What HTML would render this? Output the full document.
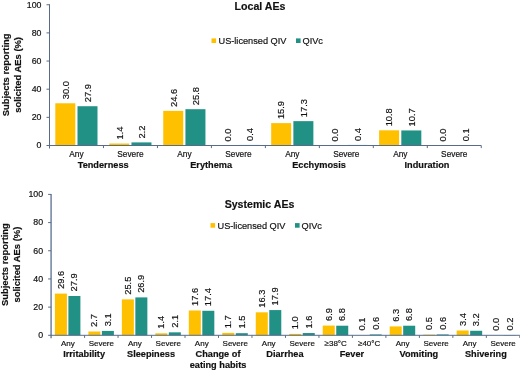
<!DOCTYPE html>
<html><head><meta charset="utf-8"><title>AEs</title>
<style>
html,body{margin:0;padding:0;background:#fff;}
svg{display:block;font-family:"Liberation Sans",Arial,sans-serif;fill:#111}
svg text{stroke:#111;stroke-width:0.18px}
.t{font-size:8.8px}
.c{font-size:8.3px}
.v{font-size:9.3px}
.l{font-size:9.2px}
.g{font-size:9.2px;font-weight:bold}
.ti{font-size:10.6px;font-weight:bold}
.yl{font-size:9.4px;font-weight:bold}
</style></head><body>
<svg width="520" height="372" viewBox="0 0 520 372">
<rect width="520" height="372" fill="#fff"/>
<rect x="55.30" y="103.28" width="20" height="42.23" fill="#ffc000"/>
<text class="v" transform="translate(68.60,99.28) rotate(-90)">30.0</text>
<rect x="77.50" y="106.23" width="20" height="39.27" fill="#219085"/>
<text class="v" transform="translate(90.80,102.23) rotate(-90)">27.9</text>
<text class="c" style="font-size:8.3px" x="76.48" y="157.0" text-anchor="middle">Any</text>
<rect x="109.27" y="143.53" width="20" height="1.97" fill="#ffc000"/>
<text class="v" transform="translate(122.57,139.53) rotate(-90)">1.4</text>
<rect x="131.47" y="142.40" width="20" height="3.10" fill="#219085"/>
<text class="v" transform="translate(144.77,138.40) rotate(-90)">2.2</text>
<text class="c" style="font-size:8.3px" x="130.45" y="157.0" text-anchor="middle">Severe</text>
<text class="g" x="103.17" y="168.00" text-anchor="middle">Tenderness</text>
<rect x="163.24" y="110.88" width="20" height="34.62" fill="#ffc000"/>
<text class="v" transform="translate(176.54,106.88) rotate(-90)">24.6</text>
<rect x="185.44" y="109.19" width="20" height="36.31" fill="#219085"/>
<text class="v" transform="translate(198.74,105.19) rotate(-90)">25.8</text>
<text class="c" style="font-size:8.3px" x="184.43" y="157.0" text-anchor="middle">Any</text>
<text class="v" transform="translate(230.51,141.50) rotate(-90)">0.0</text>
<rect x="239.41" y="144.94" width="20" height="0.56" fill="#219085"/>
<text class="v" transform="translate(252.71,140.94) rotate(-90)">0.4</text>
<text class="c" style="font-size:8.3px" x="238.39" y="157.0" text-anchor="middle">Severe</text>
<text class="g" x="211.11" y="168.00" text-anchor="middle">Erythema</text>
<rect x="271.18" y="123.12" width="20" height="22.38" fill="#ffc000"/>
<text class="v" transform="translate(284.48,119.12) rotate(-90)">15.9</text>
<rect x="293.38" y="121.15" width="20" height="24.35" fill="#219085"/>
<text class="v" transform="translate(306.68,117.15) rotate(-90)">17.3</text>
<text class="c" style="font-size:8.3px" x="292.37" y="157.0" text-anchor="middle">Any</text>
<text class="v" transform="translate(338.45,141.50) rotate(-90)">0.0</text>
<rect x="347.35" y="144.94" width="20" height="0.56" fill="#219085"/>
<text class="v" transform="translate(360.65,140.94) rotate(-90)">0.4</text>
<text class="c" style="font-size:8.3px" x="346.34" y="157.0" text-anchor="middle">Severe</text>
<text class="g" x="319.05" y="168.00" text-anchor="middle">Ecchymosis</text>
<rect x="379.12" y="130.30" width="20" height="15.20" fill="#ffc000"/>
<text class="v" transform="translate(392.42,126.30) rotate(-90)">10.8</text>
<rect x="401.32" y="130.44" width="20" height="15.06" fill="#219085"/>
<text class="v" transform="translate(414.62,126.44) rotate(-90)">10.7</text>
<text class="c" style="font-size:8.3px" x="400.31" y="157.0" text-anchor="middle">Any</text>
<text class="v" transform="translate(446.39,141.50) rotate(-90)">0.0</text>
<rect x="455.29" y="145.36" width="20" height="0.14" fill="#219085"/>
<text class="v" transform="translate(468.59,141.36) rotate(-90)">0.1</text>
<text class="c" style="font-size:8.3px" x="454.27" y="157.0" text-anchor="middle">Severe</text>
<text class="g" x="426.99" y="168.00" text-anchor="middle">Induration</text>
<path d="M49.5 4.25V148.5" stroke="#586c8a" stroke-width="1" fill="none"/>
<path d="M49.0 145.5H481.26" stroke="#586c8a" stroke-width="1" fill="none"/>
<path d="M46.5 145.50H49.5" stroke="#586c8a" stroke-width="1"/>
<text class="t" x="41.5" y="148.40" text-anchor="end">0</text>
<path d="M46.5 117.35H49.5" stroke="#586c8a" stroke-width="1"/>
<text class="t" x="41.5" y="120.25" text-anchor="end">20</text>
<path d="M46.5 89.20H49.5" stroke="#586c8a" stroke-width="1"/>
<text class="t" x="41.5" y="92.10" text-anchor="end">40</text>
<path d="M46.5 61.05H49.5" stroke="#586c8a" stroke-width="1"/>
<text class="t" x="41.5" y="63.95" text-anchor="end">60</text>
<path d="M46.5 32.90H49.5" stroke="#586c8a" stroke-width="1"/>
<text class="t" x="41.5" y="35.80" text-anchor="end">80</text>
<path d="M46.5 4.75H49.5" stroke="#586c8a" stroke-width="1"/>
<text class="t" x="41.5" y="7.65" text-anchor="end">100</text>
<path d="M103.47 145.5V148.1" stroke="#586c8a" stroke-width="1"/>
<path d="M157.44 145.5V148.1" stroke="#586c8a" stroke-width="1"/>
<path d="M211.41 145.5V148.1" stroke="#586c8a" stroke-width="1"/>
<path d="M265.38 145.5V148.1" stroke="#586c8a" stroke-width="1"/>
<path d="M319.35 145.5V148.1" stroke="#586c8a" stroke-width="1"/>
<path d="M373.32 145.5V148.1" stroke="#586c8a" stroke-width="1"/>
<path d="M427.29 145.5V148.1" stroke="#586c8a" stroke-width="1"/>
<path d="M481.26 145.5V148.1" stroke="#586c8a" stroke-width="1"/>
<text class="ti" x="260" y="10" text-anchor="middle">Local AEs</text>
<rect x="211.5" y="38.4" width="4.6" height="4.6" fill="#ffc000"/>
<text class="l" x="218.5" y="44">US-licensed QIV</text>
<rect x="296.0" y="38.4" width="4.6" height="4.6" fill="#219085"/>
<text class="l" x="302.5" y="44">QIVc</text>
<text class="yl" text-anchor="middle" transform="translate(9,74.88) rotate(-90)"><tspan x="0" y="0">Subjects reporting</tspan><tspan x="0" y="11.5">solicited AEs (%)</tspan></text>
<rect x="54.90" y="293.59" width="12" height="41.71" fill="#ffc000"/>
<text class="v" transform="translate(63.90,288.99) rotate(-90)">29.6</text>
<rect x="68.40" y="295.99" width="12" height="39.31" fill="#219085"/>
<text class="v" transform="translate(77.40,291.39) rotate(-90)">27.9</text>
<text class="c" style="font-size:8.0px" x="67.84" y="346.0" text-anchor="middle">Any</text>
<rect x="88.38" y="331.50" width="12" height="3.80" fill="#ffc000"/>
<text class="v" transform="translate(97.38,326.90) rotate(-90)">2.7</text>
<rect x="101.88" y="330.93" width="12" height="4.37" fill="#219085"/>
<text class="v" transform="translate(110.88,326.33) rotate(-90)">3.1</text>
<text class="c" style="font-size:8.0px" x="101.32" y="346.0" text-anchor="middle">Severe</text>
<text class="g" x="84.08" y="357.40" text-anchor="middle">Irritability</text>
<rect x="121.86" y="299.37" width="12" height="35.93" fill="#ffc000"/>
<text class="v" transform="translate(130.86,294.77) rotate(-90)">25.5</text>
<rect x="135.36" y="297.40" width="12" height="37.90" fill="#219085"/>
<text class="v" transform="translate(144.36,292.80) rotate(-90)">26.9</text>
<text class="c" style="font-size:8.0px" x="134.80" y="346.0" text-anchor="middle">Any</text>
<rect x="155.34" y="333.33" width="12" height="1.97" fill="#ffc000"/>
<text class="v" transform="translate(164.34,328.73) rotate(-90)">1.4</text>
<rect x="168.84" y="332.34" width="12" height="2.96" fill="#219085"/>
<text class="v" transform="translate(177.84,327.74) rotate(-90)">2.1</text>
<text class="c" style="font-size:8.0px" x="168.28" y="346.0" text-anchor="middle">Severe</text>
<text class="g" x="151.04" y="357.40" text-anchor="middle">Sleepiness</text>
<rect x="188.82" y="310.50" width="12" height="24.80" fill="#ffc000"/>
<text class="v" transform="translate(197.82,305.90) rotate(-90)">17.6</text>
<rect x="202.32" y="310.78" width="12" height="24.52" fill="#219085"/>
<text class="v" transform="translate(211.32,306.18) rotate(-90)">17.4</text>
<text class="c" style="font-size:8.0px" x="201.76" y="346.0" text-anchor="middle">Any</text>
<rect x="222.30" y="332.90" width="12" height="2.40" fill="#ffc000"/>
<text class="v" transform="translate(231.30,328.30) rotate(-90)">1.7</text>
<rect x="235.80" y="333.19" width="12" height="2.11" fill="#219085"/>
<text class="v" transform="translate(244.80,328.59) rotate(-90)">1.5</text>
<text class="c" style="font-size:8.0px" x="235.24" y="346.0" text-anchor="middle">Severe</text>
<text class="g" x="218.00" y="357.40" text-anchor="middle">Change of</text>
<text class="g" x="218.00" y="368.20" text-anchor="middle">eating habits</text>
<rect x="255.78" y="312.33" width="12" height="22.97" fill="#ffc000"/>
<text class="v" transform="translate(264.78,307.73) rotate(-90)">16.3</text>
<rect x="269.28" y="310.08" width="12" height="25.22" fill="#219085"/>
<text class="v" transform="translate(278.28,305.48) rotate(-90)">17.9</text>
<text class="c" style="font-size:8.0px" x="268.72" y="346.0" text-anchor="middle">Any</text>
<rect x="289.26" y="333.89" width="12" height="1.41" fill="#ffc000"/>
<text class="v" transform="translate(298.26,329.29) rotate(-90)">1.0</text>
<rect x="302.76" y="333.05" width="12" height="2.25" fill="#219085"/>
<text class="v" transform="translate(311.76,328.45) rotate(-90)">1.6</text>
<text class="c" style="font-size:8.0px" x="302.20" y="346.0" text-anchor="middle">Severe</text>
<text class="g" x="284.96" y="357.40" text-anchor="middle">Diarrhea</text>
<rect x="322.74" y="325.58" width="12" height="9.72" fill="#ffc000"/>
<text class="v" transform="translate(331.74,320.98) rotate(-90)">6.9</text>
<rect x="336.24" y="325.72" width="12" height="9.58" fill="#219085"/>
<text class="v" transform="translate(345.24,321.12) rotate(-90)">6.8</text>
<text class="c" style="font-size:8.0px" x="335.68" y="346.0" text-anchor="middle">≥38°C</text>
<rect x="356.22" y="335.16" width="12" height="0.14" fill="#ffc000"/>
<text class="v" transform="translate(365.22,330.56) rotate(-90)">0.1</text>
<rect x="369.72" y="334.45" width="12" height="0.85" fill="#219085"/>
<text class="v" transform="translate(378.72,329.85) rotate(-90)">0.6</text>
<text class="c" style="font-size:8.0px" x="369.16" y="346.0" text-anchor="middle">≥40°C</text>
<text class="g" x="351.92" y="357.40" text-anchor="middle">Fever</text>
<rect x="389.70" y="326.42" width="12" height="8.88" fill="#ffc000"/>
<text class="v" transform="translate(398.70,321.82) rotate(-90)">6.3</text>
<rect x="403.20" y="325.72" width="12" height="9.58" fill="#219085"/>
<text class="v" transform="translate(412.20,321.12) rotate(-90)">6.8</text>
<text class="c" style="font-size:8.0px" x="402.64" y="346.0" text-anchor="middle">Any</text>
<rect x="423.18" y="334.60" width="12" height="0.70" fill="#ffc000"/>
<text class="v" transform="translate(432.18,330.00) rotate(-90)">0.5</text>
<rect x="436.68" y="334.45" width="12" height="0.85" fill="#219085"/>
<text class="v" transform="translate(445.68,329.85) rotate(-90)">0.6</text>
<text class="c" style="font-size:8.0px" x="436.12" y="346.0" text-anchor="middle">Severe</text>
<text class="g" x="418.88" y="357.40" text-anchor="middle">Vomiting</text>
<rect x="456.66" y="330.51" width="12" height="4.79" fill="#ffc000"/>
<text class="v" transform="translate(465.66,325.91) rotate(-90)">3.4</text>
<rect x="470.16" y="330.79" width="12" height="4.51" fill="#219085"/>
<text class="v" transform="translate(479.16,326.19) rotate(-90)">3.2</text>
<text class="c" style="font-size:8.0px" x="469.60" y="346.0" text-anchor="middle">Any</text>
<text class="v" transform="translate(499.14,330.70) rotate(-90)">0.0</text>
<rect x="503.64" y="335.02" width="12" height="0.28" fill="#219085"/>
<text class="v" transform="translate(512.64,330.42) rotate(-90)">0.2</text>
<text class="c" style="font-size:8.0px" x="503.08" y="346.0" text-anchor="middle">Severe</text>
<text class="g" x="485.84" y="357.40" text-anchor="middle">Shivering</text>
<path d="M51.1 193.9V338.3" stroke="#8090aa" stroke-width="1.7" fill="none"/>
<path d="M50.6 335.3H519.8199999999999" stroke="#586c8a" stroke-width="1" fill="none"/>
<path d="M48.1 335.30H51.1" stroke="#586c8a" stroke-width="1"/>
<text class="t" x="43.1" y="338.20" text-anchor="end">0</text>
<path d="M48.1 307.12H51.1" stroke="#586c8a" stroke-width="1"/>
<text class="t" x="43.1" y="310.02" text-anchor="end">20</text>
<path d="M48.1 278.94H51.1" stroke="#586c8a" stroke-width="1"/>
<text class="t" x="43.1" y="281.84" text-anchor="end">40</text>
<path d="M48.1 250.76H51.1" stroke="#586c8a" stroke-width="1"/>
<text class="t" x="43.1" y="253.66" text-anchor="end">60</text>
<path d="M48.1 222.58H51.1" stroke="#586c8a" stroke-width="1"/>
<text class="t" x="43.1" y="225.48" text-anchor="end">80</text>
<path d="M48.1 194.40H51.1" stroke="#586c8a" stroke-width="1"/>
<text class="t" x="43.1" y="197.30" text-anchor="end">100</text>
<path d="M84.58 335.3V337.90000000000003" stroke="#586c8a" stroke-width="1"/>
<path d="M118.06 335.3V337.90000000000003" stroke="#586c8a" stroke-width="1"/>
<path d="M151.54 335.3V337.90000000000003" stroke="#586c8a" stroke-width="1"/>
<path d="M185.02 335.3V337.90000000000003" stroke="#586c8a" stroke-width="1"/>
<path d="M218.50 335.3V337.90000000000003" stroke="#586c8a" stroke-width="1"/>
<path d="M251.98 335.3V337.90000000000003" stroke="#586c8a" stroke-width="1"/>
<path d="M285.46 335.3V337.90000000000003" stroke="#586c8a" stroke-width="1"/>
<path d="M318.94 335.3V337.90000000000003" stroke="#586c8a" stroke-width="1"/>
<path d="M352.42 335.3V337.90000000000003" stroke="#586c8a" stroke-width="1"/>
<path d="M385.90 335.3V337.90000000000003" stroke="#586c8a" stroke-width="1"/>
<path d="M419.38 335.3V337.90000000000003" stroke="#586c8a" stroke-width="1"/>
<path d="M452.86 335.3V337.90000000000003" stroke="#586c8a" stroke-width="1"/>
<path d="M486.34 335.3V337.90000000000003" stroke="#586c8a" stroke-width="1"/>
<path d="M519.82 335.3V337.90000000000003" stroke="#586c8a" stroke-width="1"/>
<text class="ti" x="259.5" y="207.5" text-anchor="middle">Systemic AEs</text>
<rect x="210.5" y="223.1" width="4.6" height="4.6" fill="#ffc000"/>
<text class="l" x="217.5" y="228.7">US-licensed QIV</text>
<rect x="295.0" y="223.1" width="4.6" height="4.6" fill="#219085"/>
<text class="l" x="301.5" y="228.7">QIVc</text>
<text class="yl" text-anchor="middle" transform="translate(8,264.60) rotate(-90)"><tspan x="0" y="0">Subjects reporting</tspan><tspan x="0" y="11.5">solicited AEs (%)</tspan></text>
</svg>
</body></html>
